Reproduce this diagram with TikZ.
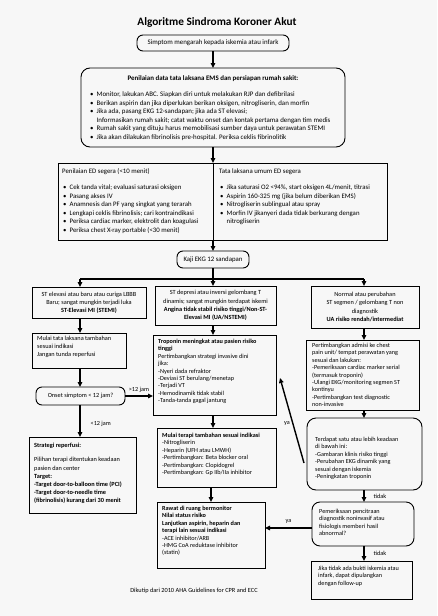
\documentclass[tikz,border=0pt]{standalone}
\usepackage{fontspec}
\setmainfont{Carlito}
\usetikzlibrary{arrows.meta,calc}
\definecolor{bg}{RGB}{247,247,247}
\newcommand\bx[7]{\node[#6, minimum width={(#4-#2)*1pt}, minimum height={(#5-#3)*1pt}] (#1) at ({(#2+#4)/2},{(#3+#5)/2}) {#7};}
\newcommand\fa{\fontsize{6.9}{8.6}\selectfont}
\newcommand\fb{\fontsize{6.8}{8.6}\selectfont}
\newcommand\fc{\fontsize{6.2}{7.4}\selectfont}
\newcommand\fd{\fontsize{6.3}{8.2}\selectfont}
\newcommand\bul{\makebox[6.5pt][l]{\textbullet}}
\begin{document}
\begin{tikzpicture}[x=1pt,y=-1pt,
  box/.style={draw, line width=0.9pt, inner sep=0pt, outer sep=0pt, align=center},
  rbox/.style={box, rounded corners=6pt},
  txt/.style={inner sep=0pt, anchor=north west, align=left},
  lbl/.style={font=\fc, inner sep=1pt},
  line/.style={line width=1.4pt},
  arr/.style={line width=1.4pt, -{Triangle[length=5pt,width=4.5pt]}}]
\fill[bg] (0,0) rectangle (437,616);
\useasboundingbox (0,0) rectangle (437,616);

\node[font=\bfseries\fontsize{11.3}{13}\selectfont] (title) at (217,22) {Algoritme Sindroma Koroner Akut};

\bx{s1}{137}{35}{289}{51}{rbox,font=\fa}{Simptom mengarah kepada iskemia atau infark}

\bx{s2}{81}{68}{345}{147}{rbox,rounded corners=9pt}{}
\node[font=\fa\bfseries] (s2t) at (213,79) {Penilaian data tata laksana EMS dan persiapan rumah sakit:};
\node[txt,font=\fa] (s2l) at (90,91.5) {\bul Monitor, lakukan ABC. Siapkan diri untuk melakukan RJP dan defibrilasi\\
\bul Berikan aspirin dan jika diperlukan berikan oksigen, nitrogliserin, dan morfin\\
\bul Jika ada, pasang EKG 12-sandapan; jika ada ST elevasi;\\
\hspace*{6.5pt}Informasikan rumah sakit; catat waktu onset dan kontak pertama dengan tim medis\\
\bul Rumah sakit yang dituju harus memobilisasi sumber daya untuk perawatan STEMI\\
\bul Jika akan dilakukan fibrinolisis pre-hospital. Periksa ceklis fibrinolitik};

\bx{s3a}{58}{163}{213}{240}{box}{}
\bx{s3b}{213}{163}{387}{240}{box}{}
\node[txt,font=\fb] (s3at) at (62,168.5) {Penilaian ED segera (<10 menit)};
\node[txt,font=\fb] (s3al) at (63,184.5) {\bul Cek tanda vital; evaluasi saturasi oksigen\\
\bul Pasang akses IV\\
\bul Anamnesis dan PF yang singkat yang terarah\\
\bul Lengkapi ceklis fibrinolisis; cari kontraindikasi\\
\bul Periksa cardiac marker, elektrolit dan koagulasi\\
\bul Periksa chest X-ray portable (<30 menit)};
\node[txt,font=\fb] (s3bt) at (219,168.5) {Tata laksana umum ED segera};
\node[txt,font=\fb] (s3bl) at (220,184.5) {\bul Jika saturasi O2 <94\%, start oksigen 4L/menit, titrasi\\
\bul Aspirin 160-325 mg (jika belum diberikan EMS)\\
\bul Nitrogliserin sublingual atau spray\\
\bul Morfin IV jikanyeri dada tidak berkurang dengan\\
\hspace*{6.5pt}nitrogliserin};

\bx{kaji}{177}{251}{249}{268}{rbox,font=\fb}{Kaji EKG 12 sandapan}

\coordinate (bl) at (80,279);
\coordinate (br) at (364,279);
\coordinate (bm) at (213,279);

\bx{c1}{32}{287}{146}{318}{box,font=\fd}{ST elevasi atau baru atau curiga LBBB\\Baru; sangat mungkin terjadi luka\\\textbf{ST-Elevasi MI (STEMI)}}
\bx{c2}{155}{286}{276}{325}{box,font=\fd}{ST depresi atau inversi gelombang T\\dinamis; sangat mungkin terdapat iskemi\\\textbf{Angina tidak stabil risiko tinggi/Non-ST-}\\\textbf{Elevasi MI (UA/NSTEMI)}}
\bx{c3}{311}{286}{419}{328}{box,font=\fd}{Normal atau perubahan\\ST segmen / gelombang T non\\diagnostik\\\textbf{UA risiko rendah/intermediat}}

\bx{c1b}{32}{333}{126}{368}{box}{}
\node[txt,font=\fd] (c1bt) at (37,336) {Mulai tata laksana tambahan\\sesuai indikasi\\Jangan tunda reperfusi};

\bx{onset}{36}{387}{125}{405}{rbox,font=\fd}{Onset simptom < 12 jam?}

\bx{strat}{29}{437}{136}{513}{box}{}
\node[txt,font=\fd] (stratt) at (34,443) {\textbf{Strategi reperfusi:}\\[6pt]
Pilihan terapi ditentukan keadaan\\
pasien dan center\\
\textbf{Target:}\\
\textbf{-Target door-to-balloon time (PCI)}\\
\textbf{-Target door-to-needle time}\\
\textbf{(fibrinolisis) kurang dari 30 menit}};

\bx{trop}{153}{335}{276}{415}{box}{}
\node[txt,font=\fc] (tropt) at (158,339) {\textbf{Troponin meningkat atau pasien risiko}\\
\textbf{tinggi}\\
Pertimbangkan strategi invasive dini\\
jika:\\
-Nyeri dada refraktor\\
-Deviasi ST berulang/menetap\\
-Terjadi VT\\
-Hemodinamik tidak stabil\\
-Tanda-tanda gagal jantung};

\bx{mulai}{157}{428}{276}{487}{box}{}
\node[txt,font=\fc] (mulait) at (162,433) {\textbf{Mulai terapi tambahan sesuai indikasi}\\
-Nitrogliserin\\
-Heparin (UFH atau LMWH)\\
-Pertimbangkan: Beta blocker oral\\
-Pertimbangkan: Clopidogrel\\
-Pertimbangkan: Gp IIb/IIa inhibitor};

\bx{rawat}{157}{502}{265}{568}{box}{}
\node[txt,font=\fc] (rawatt) at (162,506) {\textbf{Rawat di ruang bermonitor}\\
\textbf{Nilai status risiko}\\
\textbf{Lanjutkan aspirin, heparin dan}\\
\textbf{terapi lain sesuai indikasi}\\
-ACE inhibitor/ARB\\
-HMG CoA reduktase inhibitor\\
(statin)};

\bx{pert}{306}{340}{419}{410}{box}{}
\node[txt,font=\fc] (pertt) at (312,343) {Pertimbangkan admisi ke chest\\
pain unit/ tempat perawatan yang\\
sesuai dan lakukan:\\
-Pemeriksaan cardiac marker serial\\
(termasuk troponin)\\
-Ulangi EKG/monitoring segmen ST\\
kontinyu\\
-Pertimbangkan test diagnostic\\
non-invasive};

\bx{terd}{307}{418}{422}{490}{rbox,rounded corners=9pt}{}
\node[txt,font=\fc] (terdt) at (315,437) {Terdapat satu atau lebih keadaan\\
di bawah ini:\\
-Gambaran klinis risiko tinggi\\
-Perubahan EKG dinamik yang\\
sesuai dengan iskemia\\
-Peningkatan troponin};

\bx{pem}{312}{502}{414}{546}{rbox,rounded corners=8pt}{}
\node[txt,font=\fc] (pemt) at (319,509) {Pemeriksaan pencitraan\\
diagnostik noninvasif atau\\
fisiologis memberi hasil\\
abnormal?};

\bx{jika}{311}{561}{412}{599}{box}{}
\node[txt,font=\fc] (jikat) at (318,566) {Jika tidak ada bukti iskemia atau\\
infark, dapat dipulangkan\\
dengan follow-up};

\node[font=\fd] (foot) at (194,591) {Dikutip dari 2010 AHA Guidelines for CPR and ECC};

% connectors
\draw[arr] (s1.south) -- (s1.south |- s2.north);
\draw[arr] (s2.south) -- (s2.south |- s3a.north);
\draw[arr] (s3a.south east) -- (kaji.north);
\draw[line] (kaji.south) -- (bm);
\draw[line] (bl) -- (br);
\draw[arr] (bl) -- (bl |- c1.north);
\draw[arr] (bm) -- (bm |- c2.north);
\draw[arr] (br) -- (br |- c3.north);
\draw[arr] (bl |- c1.south) -- (bl |- c1b.north);
\draw[arr] (bl |- c1b.south) -- (bl |- onset.north);
\draw[arr] (onset.east) -- (onset.east -| trop.west) node[midway, above=2pt, lbl] (l1) {>12 jam};
\draw[arr] (bl |- onset.south) -- (bl |- strat.north) node[midway, right=9pt, yshift=-3pt, lbl] (l2) {<12 jam};
\draw[arr] (bm |- c2.south) -- (bm |- trop.north);
\draw[arr] (bm |- trop.south) -- (bm |- mulai.north);
\draw[arr] (rawat.north |- mulai.south) -- (rawat.north);
\draw[arr] (br |- c3.south) -- (br |- pert.north);
\draw[arr] (br |- pert.south) -- (br |- terd.north);
\draw[arr] (br |- terd.south) -- (br |- pem.north) node[midway, right=8pt, lbl] (l3) {tidak};
\draw[arr] (br |- pem.south) -- (br |- jika.north) node[midway, right=8pt, lbl] (l4) {tidak};
\coordinate (pw) at ($(pem.west)+(0,4)$);
\draw[arr] (pw) -- (pw -| rawat.east) node[midway, above=3pt, lbl] (l5) {ya};
\coordinate (ya1) at (304,463);
\coordinate (ya2) at (280,378);
\draw[arr] (ya1) -- (ya2);
\node[lbl] (l6) at (287,423) {ya};
\end{tikzpicture}
\end{document}
